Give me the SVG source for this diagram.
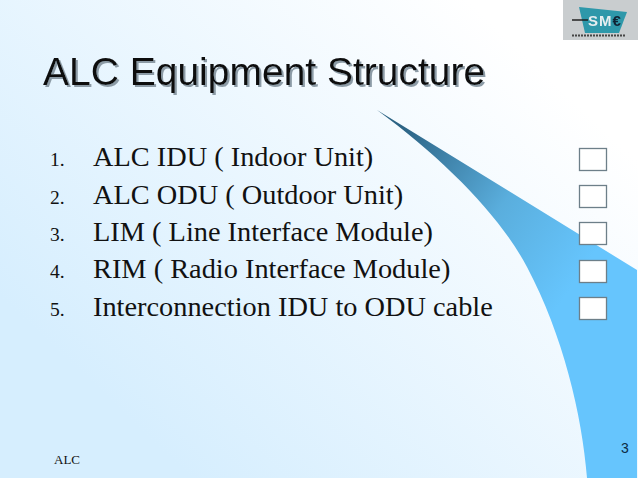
<svg xmlns="http://www.w3.org/2000/svg" width="638" height="478" viewBox="0 0 638 478">
<defs>
<linearGradient id="bg" gradientUnits="userSpaceOnUse" x1="500" y1="30" x2="130" y2="420">
<stop offset="0" stop-color="#ffffff"/><stop offset="1" stop-color="#d6eefe"/>
</linearGradient>
<linearGradient id="wedge" gradientUnits="userSpaceOnUse" x1="400" y1="130" x2="590" y2="260">
<stop offset="0" stop-color="#2c6384"/><stop offset="0.55" stop-color="#5aaedd"/><stop offset="1" stop-color="#66c5fd"/>
</linearGradient>
<filter id="blur" x="-5%" y="-5%" width="110%" height="110%"><feGaussianBlur stdDeviation="0.6"/></filter>
<filter id="shadow" x="-5%" y="-20%" width="110%" height="140%"><feDropShadow dx="2" dy="2" stdDeviation="0.7" flood-color="#8c9ba6"/></filter>
</defs>
<style>
.title{font-family:"Liberation Sans",Arial,sans-serif;font-size:39px;fill:#0b0b0b}
.num{font-family:"Liberation Serif","Times New Roman",serif;font-size:19.5px;fill:#111}
.item{font-family:"Liberation Serif","Times New Roman",serif;font-size:28.35px;fill:#111}
.box{fill:#fff;stroke:#6d7f89;stroke-width:1.3}
</style>
<rect width="638" height="478" fill="url(#bg)"/>
<path id="wedge-shape" d="M377 110 L637 270 L637 478 L587 478 C582 415 563 335 527 267 C500 216 445 160 377 110Z" fill="url(#wedge)"/>
<g id="logo">
<rect x="563" y="0" width="75" height="40" fill="#c9cdcf"/>
<g filter="url(#blur)">
<path d="M579 7 L627 12 L619 33 L585 33Z" fill="#2f98aa"/>
<path d="M572 20 H588" stroke="#222" stroke-width="1.5"/>
<text x="588" y="25.500" font-family="'Liberation Sans',sans-serif" font-size="15" font-weight="700" letter-spacing="1" fill="#e6eef0">SM<tspan fill="#123">€</tspan></text>
<path d="M572 35.500 H625" stroke="#444" stroke-width="2" stroke-dasharray="2 1"/>
</g>
</g>
<text id="title" class="title" x="43" y="85" filter="url(#shadow)">ALC Equipment Structure</text>
<g id="list">
<text class="num" x="50" y="166">1.</text><text class="item" x="93" y="166">ALC IDU ( Indoor Unit)</text>
<text class="num" x="50" y="203.500">2.</text><text class="item" x="93" y="203.500">ALC ODU ( Outdoor Unit)</text>
<text class="num" x="50" y="241">3.</text><text class="item" x="93" y="241">LIM ( Line Interface Module)</text>
<text class="num" x="50" y="278">4.</text><text class="item" x="93" y="278">RIM ( Radio Interface Module)</text>
<text class="num" x="50" y="315.500">5.</text><text class="item" x="93" y="315.500">Interconnection IDU to ODU cable</text>
</g>
<g id="checkboxes">
<rect class="box" x="579.5" y="148.5" width="27" height="22"/>
<rect class="box" x="579.5" y="185.5" width="27" height="22"/>
<rect class="box" x="579.5" y="222.5" width="27" height="22"/>
<rect class="box" x="579.5" y="260.5" width="27" height="22"/>
<rect class="box" x="579.5" y="297.5" width="27" height="22"/>
</g>
<text id="footer" x="54" y="464" font-family="'Liberation Serif',serif" font-size="13" fill="#111">ALC</text>
<text id="page" x="621" y="453" font-family="'Liberation Sans',sans-serif" font-size="14" fill="#0c2c44">3</text>
</svg>
